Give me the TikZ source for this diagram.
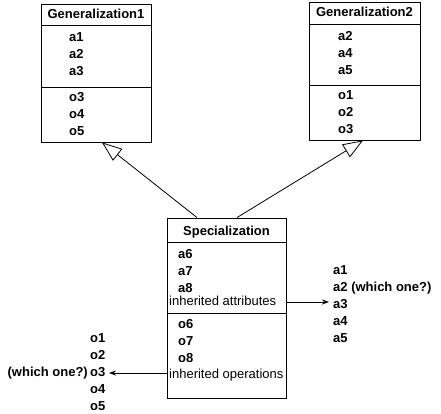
\documentclass[tikz,border=0pt]{standalone}
\usepackage{fontspec}
\setmainfont{Liberation Sans}
\usetikzlibrary{arrows.meta,calc}
\begin{document}
\begin{tikzpicture}[x=1pt,y=-1pt,
  box/.style={draw,line width=0.9pt,inner sep=0pt},
  sep/.style={line width=0.9pt},
  txt/.style={font=\fontsize{13}{15}\selectfont\bfseries,inner sep=0pt,anchor=base west},
  ttl/.style={font=\fontsize{13}{15}\selectfont\bfseries,inner sep=0pt,anchor=base},
  inh/.style={font=\fontsize{13}{15}\selectfont,inner sep=0pt,anchor=base west},
  gen/.style={line width=0.8pt,-{Triangle[open,length=20pt,width=15pt]}},
  link/.style={line width=0.8pt,-{Stealth[length=7pt,width=5pt]}}]
\useasboundingbox (0,0) rectangle (441,413);
% Generalization1
\node[box,minimum width=110pt,minimum height=138pt] (g1) at (96,73) {};
\draw[sep] (g1.west |- 0,25) -- (g1.east |- 0,25);
\draw[sep] (g1.west |- 0,87) -- (g1.east |- 0,87);
\node[ttl] (g1t) at (96,18.5) {Generalization1};
\node[txt] (g1a1) at (69,41.5) {a1};
\node[txt] (g1a2) at (69,58.5) {a2};
\node[txt] (g1a3) at (69,75.5) {a3};
\node[txt] (g1o3) at (69,101.5) {o3};
\node[txt] (g1o4) at (69,118.5) {o4};
\node[txt] (g1o5) at (69,135.5) {o5};
% Generalization2
\node[box,minimum width=111pt,minimum height=138pt] (g2) at (364.5,71) {};
\draw[sep] (g2.west |- 0,24) -- (g2.east |- 0,24);
\draw[sep] (g2.west |- 0,85) -- (g2.east |- 0,85);
\node[ttl] (g2t) at (364.5,16.5) {Generalization2};
\node[txt] (g2a2) at (338,40.5) {a2};
\node[txt] (g2a4) at (338,57.5) {a4};
\node[txt] (g2a5) at (338,74.5) {a5};
\node[txt] (g2o1) at (338,99.5) {o1};
\node[txt] (g2o2) at (338,116.5) {o2};
\node[txt] (g2o3) at (338,133.5) {o3};
% Specialization
\node[box,minimum width=119pt,minimum height=180pt] (sp) at (226.5,308) {};
\draw[sep] (sp.west |- 0,242) -- (sp.east |- 0,242);
\draw[sep] (sp.west |- 0,313) -- (sp.east |- 0,313);
\node[ttl] (spt) at (226.5,235.5) {Specialization};
\node[txt] (spa6) at (178,258.5) {a6};
\node[txt] (spa7) at (178,275.5) {a7};
\node[txt] (spa8) at (178,292.5) {a8};
\node[inh] (spia) at (169,305.5) {inherited attributes};
\node[txt] (spo6) at (178,328.5) {o6};
\node[txt] (spo7) at (178,345.5) {o7};
\node[txt] (spo8) at (178,362.5) {o8};
\node[inh] (spio) at (169,378.5) {inherited operations};
% right list
\node[txt] (ra1) at (333,274.5) {a1};
\node[txt] (ra2) at (333,291.5) {a2 (which one?)};
\node[txt] (ra3) at (333,308.5) {a3};
\node[txt] (ra4) at (333,325.5) {a4};
\node[txt] (ra5) at (333,342.5) {a5};
% left list
\node[txt] (lo1) at (90,342.5) {o1};
\node[txt] (lo2) at (90,359.5) {o2};
\node[txt] (lo3) at (90,376.5) {o3};
\node[txt] (lo4) at (90,393.5) {o4};
\node[txt] (lo5) at (90,410.5) {o5};
\node[txt,anchor=base east] (lwo) at (88,376.5) {(which one?)};
% generalization arrows
\draw[gen] ($(sp.north)+(-29.5,0)$) -- ($(g1.south)+(6,0)$);
\draw[gen] ($(sp.north)+(10.5,0)$) -- ($(g2.south)+(-1.5,0)$);
% inheritance links
\coordinate (ra) at (329,302);
\coordinate (la) at (109,373);
\draw[link] (sp.east |- ra) -- (ra);
\draw[link] (sp.west |- la) -- (la);
\end{tikzpicture}
\end{document}
